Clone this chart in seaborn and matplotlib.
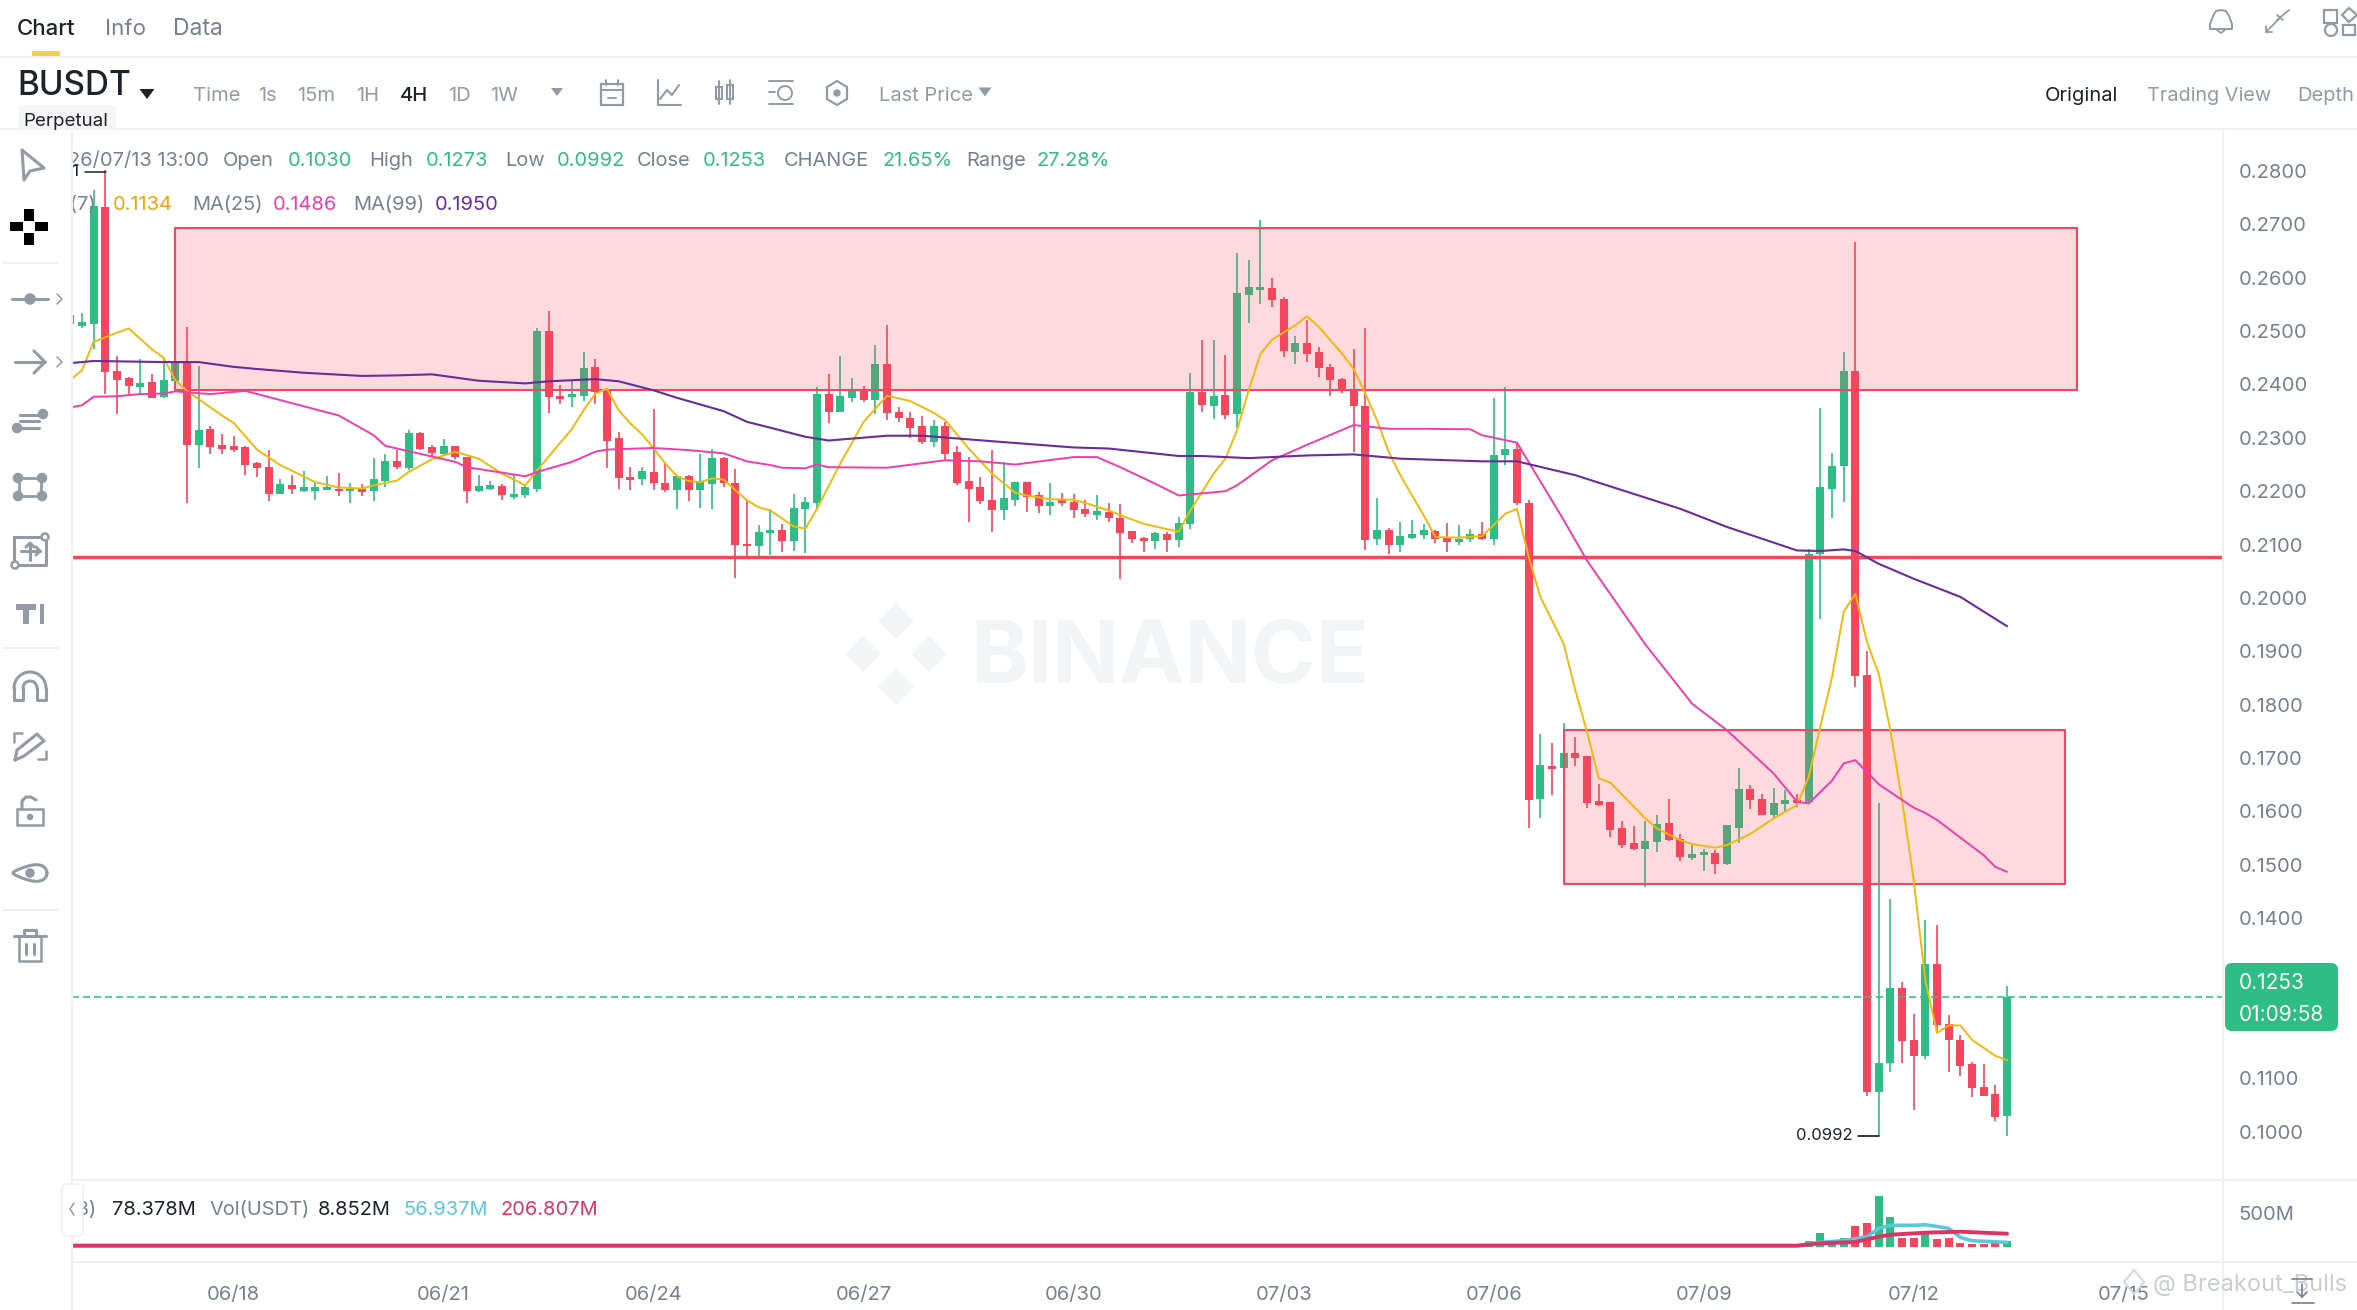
import numpy as np
import pandas as pd
import matplotlib.pyplot as plt
from matplotlib.patches import Rectangle, FancyBboxPatch, Circle, Polygon
from matplotlib.colors import to_rgba
import seaborn as sns

# Candle values, in ten-thousandths of a dollar
open_p = [2530, 2510, 2513, 2732, 2425, 2413, 2396, 2404, 2377, 2407,
          2442, 2287, 2317, 2287, 2284, 2283, 2252, 2245, 2195, 2212,
          2200, 2200, 2202, 2205, 2200, 2205, 2200, 2219, 2256, 2244,
          2310, 2282, 2270, 2284, 2264, 2200, 2205, 2210, 2189, 2192,
          2204, 2500, 2379, 2376, 2379, 2432, 2388, 2299, 2227, 2222,
          2236, 2216, 2203, 2228, 2202, 2214, 2263, 2215, 2102, 2097,
          2122, 2128, 2106, 2167, 2178, 2383, 2349, 2375, 2391, 2371,
          2438, 2349, 2337, 2322, 2292, 2322, 2273, 2219, 2207, 2183,
          2164, 2183, 2217, 2192, 2172, 2184, 2180, 2166, 2156, 2161,
          2150, 2125, 2113, 2106, 2120, 2109, 2138, 2386, 2359, 2381,
          2344, 2567, 2577, 2580, 2560, 2461, 2477, 2461, 2432, 2410,
          2392, 2360, 2111, 2127, 2100, 2113, 2118, 2126, 2112, 2104,
          2111, 2119, 2110, 2267, 2279, 2178, 1624, 1686, 1681, 1709,
          1704, 1619, 1617, 1569, 1541, 1530, 1542, 1579, 1549, 1513,
          1518, 1522, 1502, 1569, 1642, 1624, 1593, 1613, 1621, 1618,
          2082, 2205, 2247, 2425, 1855, 1074, 1128, 1269, 1172, 1141,
          1315, 1201, 1172, 1126, 1083, 1070, 1030]
high_p = [2536, 2533, 2765, 2801, 2454, 2414, 2447, 2419, 2449, 2464,
          2508, 2435, 2322, 2308, 2303, 2284, 2255, 2278, 2222, 2230,
          2237, 2217, 2229, 2235, 2215, 2213, 2263, 2269, 2278, 2314,
          2311, 2286, 2297, 2285, 2264, 2230, 2220, 2213, 2230, 2211,
          2505, 2538, 2399, 2408, 2461, 2447, 2392, 2311, 2245, 2245,
          2354, 2253, 2230, 2230, 2270, 2280, 2264, 2241, 2184, 2136,
          2167, 2139, 2194, 2189, 2395, 2420, 2453, 2413, 2397, 2474,
          2511, 2358, 2349, 2340, 2333, 2330, 2284, 2264, 2226, 2278,
          2255, 2217, 2217, 2199, 2216, 2197, 2194, 2183, 2192, 2178,
          2176, 2125, 2114, 2124, 2124, 2152, 2422, 2483, 2483, 2456,
          2646, 2633, 2708, 2599, 2563, 2491, 2521, 2471, 2438, 2413,
          2466, 2505, 2188, 2132, 2142, 2147, 2139, 2127, 2141, 2137,
          2130, 2142, 2375, 2395, 2289, 2183, 1745, 1729, 1765, 1739,
          1704, 1652, 1618, 1582, 1573, 1583, 1593, 1624, 1557, 1538,
          1530, 1527, 1574, 1682, 1649, 1632, 1643, 1641, 1633, 2092,
          2355, 2272, 2461, 2667, 1900, 1615, 1435, 1280, 1220, 1397,
          1388, 1218, 1182, 1130, 1126, 1087, 1273]
low_p = [2511, 2505, 2467, 2382, 2344, 2382, 2383, 2374, 2375, 2407,
         2177, 2244, 2270, 2270, 2274, 2230, 2226, 2182, 2194, 2194,
         2199, 2183, 2202, 2191, 2178, 2191, 2182, 2208, 2242, 2240,
         2277, 2264, 2267, 2260, 2177, 2198, 2202, 2183, 2185, 2188,
         2199, 2347, 2364, 2358, 2369, 2363, 2244, 2205, 2202, 2211,
         2202, 2199, 2167, 2182, 2169, 2167, 2208, 2038, 2077, 2074,
         2080, 2086, 2088, 2084, 2164, 2328, 2349, 2367, 2367, 2345,
         2334, 2330, 2299, 2289, 2283, 2259, 2211, 2142, 2176, 2124,
         2147, 2172, 2161, 2159, 2155, 2172, 2150, 2152, 2147, 2142,
         2036, 2103, 2086, 2092, 2086, 2096, 2130, 2349, 2336, 2336,
         2319, 2515, 2550, 2546, 2451, 2439, 2442, 2414, 2378, 2384,
         2274, 2090, 2099, 2082, 2086, 2111, 2111, 2103, 2087, 2099,
         2105, 2108, 2099, 2250, 2174, 1569, 1588, 1631, 1656, 1685,
         1607, 1611, 1552, 1531, 1528, 1459, 1524, 1545, 1507, 1509,
         1489, 1483, 1499, 1540, 1605, 1593, 1585, 1599, 1608, 1616,
         1961, 2150, 2180, 1834, 1066, 992, 1112, 1128, 1040, 1137,
         1184, 1112, 1105, 1065, 1066, 1020, 992]
close_p = [2513, 2517, 2734, 2424, 2408, 2397, 2403, 2375, 2408, 2442,
           2286, 2315, 2283, 2280, 2278, 2250, 2244, 2195, 2213, 2204,
           2207, 2207, 2208, 2200, 2205, 2199, 2222, 2256, 2245, 2310,
           2280, 2272, 2285, 2264, 2200, 2209, 2211, 2192, 2194, 2207,
           2501, 2377, 2372, 2382, 2431, 2386, 2295, 2225, 2221, 2238,
           2215, 2202, 2228, 2202, 2217, 2263, 2215, 2100, 2097, 2124,
           2128, 2106, 2169, 2180, 2382, 2349, 2378, 2391, 2371, 2438,
           2347, 2337, 2319, 2292, 2322, 2270, 2215, 2204, 2181, 2164,
           2187, 2217, 2190, 2172, 2180, 2177, 2164, 2158, 2162, 2150,
           2122, 2111, 2106, 2122, 2109, 2141, 2386, 2361, 2378, 2343,
           2571, 2582, 2583, 2558, 2463, 2478, 2458, 2431, 2409, 2392,
           2359, 2109, 2127, 2100, 2116, 2119, 2127, 2111, 2105, 2111,
           2120, 2111, 2267, 2279, 2177, 1622, 1687, 1680, 1709, 1701,
           1615, 1612, 1566, 1537, 1529, 1544, 1577, 1546, 1514, 1521,
           1524, 1501, 1574, 1642, 1621, 1593, 1616, 1621, 1616, 2082,
           2207, 2248, 2425, 1854, 1074, 1129, 1269, 1170, 1142, 1315,
           1199, 1171, 1123, 1082, 1067, 1027, 1253]

# Volume per candle, in millions
volume = [14, 12, 24, 26, 13, 10, 9, 11, 10, 12,
          22, 14, 10, 8, 8, 9, 7, 12, 8, 7,
          7, 8, 6, 7, 8, 6, 10, 11, 8, 14,
          10, 8, 8, 7, 14, 8, 7, 8, 7, 7,
          24, 22, 9, 8, 13, 12, 14, 13, 7, 8,
          16, 9, 9, 8, 12, 14, 10, 20, 12, 9,
          8, 8, 11, 9, 22, 12, 13, 8, 7, 15,
          16, 8, 9, 9, 8, 10, 12, 13, 9, 14,
          12, 9, 9, 8, 8, 6, 8, 6, 7, 7,
          13, 7, 6, 6, 6, 8, 24, 15, 13, 13,
          28, 18, 20, 11, 16, 10, 10, 10, 9, 8,
          15, 30, 12, 10, 9, 8, 8, 7, 8, 7,
          6, 6, 24, 15, 20, 34, 18, 10, 14, 10,
          18, 8, 12, 12, 9, 16, 12, 14, 11, 8,
          9, 10, 14, 18, 9, 10, 10, 8, 8, 83,
          206, 73, 122, 304, 353, 745, 441, 127, 122, 196,
          108, 122, 54, 44, 44, 49, 88]

# Moving averages, read at the bends of each line: candle number, value
ma7_idx = [0, 1, 2, 4, 5, 7, 8, 9, 10, 13, 14, 16, 18, 21, 23, 25, 26, 28, 29, 31,
           33, 35, 37, 39, 40, 43, 44, 45, 46, 47, 48, 49, 50, 51, 52, 53, 54, 55, 56, 57,
           58, 59, 60, 62, 63, 64, 66, 68, 70, 72, 74, 75, 77, 79, 81, 82, 84, 86, 87, 89,
           90, 92, 95, 96, 98, 99, 100, 101, 102, 103, 105, 106, 107, 109, 110, 111, 112, 113, 114, 115,
           116, 117, 119, 121, 123, 124, 125, 126, 128, 129, 130, 131, 132, 135, 136, 138, 139, 141, 142, 144,
           146, 148, 149, 150, 151, 152, 153, 154, 155, 156, 157, 158, 159, 160, 161, 162, 163, 165, 166]
ma7_val = [2408, 2427, 2480, 2497, 2505, 2466, 2450, 2408, 2388, 2342, 2328, 2278, 2249, 2217, 2207, 2205, 2211, 2220, 2236, 2260,
           2274, 2261, 2233, 2211, 2239, 2317, 2352, 2383, 2392, 2352, 2327, 2307, 2280, 2252, 2228, 2219, 2217, 2224, 2222, 2202,
           2183, 2170, 2164, 2134, 2130, 2167, 2252, 2330, 2379, 2369, 2347, 2333, 2280, 2233, 2197, 2192, 2185, 2184, 2178, 2164,
           2155, 2139, 2124, 2164, 2233, 2261, 2314, 2389, 2457, 2484, 2511, 2528, 2508, 2458, 2429, 2383, 2333, 2274, 2230, 2192,
           2155, 2114, 2113, 2116, 2158, 2167, 2077, 2002, 1914, 1827, 1749, 1662, 1654, 1587, 1568, 1546, 1539, 1532, 1537, 1558,
           1587, 1612, 1665, 1759, 1852, 1974, 2008, 1917, 1858, 1752, 1621, 1471, 1283, 1185, 1199, 1199, 1172, 1142, 1134]
ma25_idx = [0, 1, 2, 4, 6, 8, 9, 12, 15, 19, 23, 26, 27, 33, 34, 39, 40, 43, 45, 46,
            50, 53, 56, 58, 60, 61, 63, 64, 65, 70, 75, 78, 81, 86, 88, 90, 93, 95, 99, 100,
            103, 106, 110, 113, 116, 120, 121, 124, 128, 130, 135, 139, 142, 146, 148, 149, 151, 152, 153, 155,
            158, 159, 160, 164, 165, 166]
ma25_val = [2357, 2361, 2377, 2378, 2382, 2383, 2387, 2382, 2388, 2365, 2342, 2305, 2285, 2255, 2245, 2228, 2236, 2255, 2274, 2278,
            2281, 2277, 2271, 2256, 2249, 2244, 2243, 2250, 2245, 2244, 2258, 2256, 2250, 2264, 2264, 2245, 2214, 2192, 2200, 2211,
            2258, 2287, 2324, 2317, 2317, 2316, 2305, 2291, 2146, 2070, 1913, 1802, 1752, 1671, 1618, 1615, 1658, 1690, 1696, 1651,
            1607, 1597, 1584, 1518, 1496, 1487]
ma99_idx = [0, 2, 5, 8, 11, 14, 16, 20, 25, 28, 31, 35, 39, 41, 45, 47, 50, 52, 56, 58,
            60, 63, 65, 70, 73, 80, 86, 89, 95, 97, 101, 106, 110, 114, 121, 124, 129, 138, 142, 148,
            150, 152, 153, 155, 158, 162, 166]
ma99_val = [2440, 2444, 2443, 2442, 2442, 2433, 2429, 2422, 2416, 2417, 2419, 2407, 2402, 2406, 2410, 2406, 2389, 2375, 2350, 2330,
            2319, 2302, 2295, 2304, 2304, 2292, 2282, 2280, 2266, 2266, 2262, 2267, 2269, 2261, 2256, 2256, 2230, 2167, 2133, 2089,
            2088, 2091, 2088, 2064, 2036, 2002, 1947]
vol_ma_fast_idx = [0, 148, 150, 152, 154, 155, 156, 158, 159, 161, 162, 163, 166]
vol_ma_fast_val = [15, 15, 64, 88, 147, 270, 314, 314, 323, 270, 137, 88, 64]
vol_ma_slow_idx = [0, 148, 150, 153, 155, 156, 159, 162, 166]
vol_ma_slow_val = [15, 15, 49, 69, 147, 176, 206, 220, 191]

date_labels = ["06/18", "06/21", "06/24", "06/27", "06/30", "07/03", "07/06", "07/09", "07/12", "07/15"]
date_ticks = [14, 32, 50, 68, 86, 104, 122, 140, 158, 176]
price_ticks = [0.28, 0.27, 0.26, 0.25, 0.24, 0.23, 0.22, 0.21, 0.20, 0.19,
               0.18, 0.17, 0.16, 0.15, 0.14, 0.11, 0.10]

# Zones drawn on the chart: first candle, last candle, low, high
upper_zone = (8.97, 172.0, 0.2389, 0.2694)
lower_zone = (128.0, 171.0, 0.1464, 0.1752)
support_level = 0.2077
last_price = 0.1253

GREEN = "#2EBD85"
RED = "#F6465D"
GREY = "#929AA5"
TEXT_GREY = "#76808F"
LINE = "#EEF0F2"
W, H = 2357, 1310

sns.set_theme(style="white")
plt.rcParams['font.family'] = ['Inter', 'DejaVu Sans']

df = pd.DataFrame({"open": open_p, "high": high_p, "low": low_p, "close": close_p, "volume": volume})
df[["open", "high", "low", "close"]] /= 10000
df["x"] = df.index
df["color"] = np.where(df["close"] >= df["open"], GREEN, RED)

fig = plt.figure(figsize=(W / 100, H / 100), dpi=100, facecolor="white")


def pane(left, top, right, bottom):
    # axes from pixel edges
    return fig.add_axes([left / W, 1 - bottom / H, (right - left) / W, (bottom - top) / H])


ax = pane(72, 129, 2223, 1180)
ax_vol = pane(72, 1180, 2223, 1262)
ui = fig.add_axes([0, 0, 1, 1], zorder=5)
ui.set_xlim(0, W)
ui.set_ylim(H, 0)
ui.axis("off")

# Price pane
ax.set_xlim(0.146, 184.51)
ax.set_ylim(0.09094, 0.28787)
ax.set_facecolor("none")

ax.vlines(df["x"], df["low"], df["high"], colors=df["color"], lw=1.2, zorder=2)
ax.bar(df["x"], (df["close"] - df["open"]).abs(), bottom=df[["open", "close"]].min(axis=1),
       width=0.7, color=df["color"], linewidth=0, zorder=2)

for x0, x1, y0, y1 in (upper_zone, lower_zone):
    ax.add_patch(Rectangle((x0, y0), x1 - x0, y1 - y0, facecolor=to_rgba(RED, 0.2),
                           edgecolor=RED, lw=1.5, zorder=3))
ax.axhline(support_level, color=RED, lw=2.5, zorder=3)
ax.axhline(last_price, color=GREEN, lw=1.1, ls=(0, (4.6, 2.6)), zorder=3)

for idx, val, col, lw in ((ma7_idx, ma7_val, "#F0B90B", 1.4),
                          (ma25_idx, ma25_val, "#EE3DAE", 1.4),
                          (ma99_idx, ma99_val, "#6B2A9E", 1.5)):
    sns.lineplot(x=idx, y=np.array(val) / 10000, ax=ax, color=col, lw=lw,
                 estimator=None, sort=False, zorder=4)

# lowest point marker
low_i = int(df["low"].idxmin())
ax.plot([low_i - 1.8, low_i], [df["low"].min()] * 2, color="black", lw=1.1, zorder=4)
ax.text(low_i - 2.2, df["low"].min(), "0.0992", ha="right", va="center", fontsize=12, color="#1E2329")

ax.set_yticks(price_ticks)
ax.set_yticklabels([f"{t:.4f}" for t in price_ticks], fontsize=14.5, color=TEXT_GREY)
ax.yaxis.tick_right()
ax.tick_params(axis="y", length=0, pad=11)
ax.set_xticks([])
ax.set_xlabel("")
ax.set_ylabel("")
sns.despine(ax=ax, left=True, bottom=True, top=True, right=True)

# Volume pane
ax_vol.set_xlim(0.146, 184.51)
ax_vol.set_ylim(-225, 980)
ax_vol.set_facecolor("none")
ax_vol.bar(df["x"], df["volume"], width=0.7, color=df["color"], linewidth=0, zorder=2)
sns.lineplot(x=vol_ma_fast_idx, y=vol_ma_fast_val, ax=ax_vol, color="#5AC8DC", lw=2.6,
             estimator=None, sort=False, zorder=3)
sns.lineplot(x=vol_ma_slow_idx, y=vol_ma_slow_val, ax=ax_vol, color="#DF3366", lw=2.8,
             estimator=None, sort=False, zorder=4)
ax_vol.set_yticks([500])
ax_vol.set_yticklabels(["500M"], fontsize=14.5, color=TEXT_GREY)
ax_vol.yaxis.tick_right()
ax_vol.set_xticks(date_ticks)
ax_vol.set_xticklabels(date_labels, fontsize=14.5, color=TEXT_GREY)
ax_vol.tick_params(axis="y", length=0, pad=11)
ax_vol.tick_params(axis="x", length=0, pad=17.5)
ax_vol.set_xlabel("")
ax_vol.set_ylabel("")
sns.despine(ax=ax_vol, left=True, bottom=True, top=True, right=True)


# ---- page furniture, in pixel coordinates ----
def label(x, y, s, color=TEXT_GREY, size=14.4, ha="left", z=5, **kw):
    ui.text(x, y + 4, s, color=color, fontsize=size, ha=ha, va="center", zorder=z, **kw)


def stroke(xs, ys, color=GREY, lw=2.2, z=8):
    ui.plot(xs, ys, color=color, lw=lw, zorder=z, solid_capstyle="round", solid_joinstyle="round")


def tri(x, y, w, h, color):
    ui.add_patch(Polygon([(x - w / 2, y - h / 2), (x + w / 2, y - h / 2), (x, y + h / 2)],
                         color=color, lw=0, zorder=8))


def box(x, y, w, h, color=GREY, lw=1.8, face="none", z=8):
    ui.add_patch(Rectangle((x, y), w, h, fill=face != "none", facecolor=face, edgecolor=color, lw=lw, zorder=z))


def dot(x, y, r, color=GREY, fill=True, lw=1.8):
    ui.add_patch(Circle((x, y), r, facecolor=color if fill else "white", edgecolor=color, lw=lw, zorder=9))


# watermarks
label(1170, 656, "BINANCE", color="#F3F4F5", size=63, ha="center", fontweight="bold", z=0)
for dx, dy, r in ((0, -33, 18), (-33, 0, 18), (33, 0, 18), (0, 33, 18)):
    ui.add_patch(Polygon([(896 + dx, 654 + dy - r), (896 + dx + r, 654 + dy),
                          (896 + dx, 654 + dy + r), (896 + dx - r, 654 + dy)], color="#F3F4F5", lw=0, zorder=0))

# rules
for yy in (56.5, 129):
    ui.plot([0, W], [yy, yy], color=LINE, lw=1.4, zorder=1)
ui.plot([72, W], [1180, 1180], color=LINE, lw=1.6, zorder=1)
ui.plot([72, W], [1262, 1262], color=LINE, lw=1.4, zorder=1)
ui.plot([2223, 2223], [129, H], color=LINE, lw=1.6, zorder=1)

# tabs
label(17, 25, "Chart", color="#1E2329", size=16, fontweight="medium")
label(105, 25, "Info", size=16)
label(173, 25, "Data", size=16.5)
ui.add_patch(Rectangle((32, 51), 28, 5, color="#F5CF45", lw=0, zorder=3))

# symbol and toolbar
label(17, 82, "BUSDT", color="#1E2329", size=24, fontweight="medium")
tri(147, 94, 15, 10, "#1E2329")
ui.add_patch(FancyBboxPatch((19, 105), 97, 24, boxstyle="round,pad=0,rounding_size=3", color="#F5F5F5", lw=0, zorder=3))
label(23, 118, "Perpetual", color="#1E2329", size=13.5)
for x, s in ((193, "Time"), (258, "1s"), (297, "15m"), (356, "1H"), (448, "1D"), (490, "1W")):
    label(x, 92, s, color=GREY, size=14.5)
label(400, 92, "4H", color="#1E2329", size=14.5, fontweight="medium")
tri(557, 92, 12, 8, GREY)
label(879, 92, "Last Price", color=GREY, size=14.5)
tri(985, 92, 13, 9, GREY)
label(2045, 92, "Original", color="#1E2329", size=14.5)
label(2147, 92, "Trading View", color=GREY, size=14.3)
label(2297, 92, "Depth", color=GREY, size=14.5)

# toolbar icons
box(601, 84, 22, 21, lw=1.6)
stroke([601, 623], [90, 90], lw=1.4)
stroke([606, 606], [80, 85], lw=1.4)
stroke([618, 618], [80, 85], lw=1.4)
stroke([608, 616, 616], [98, 98, 98], lw=1.3)
stroke([658, 658, 681], [80, 105, 105], lw=1.5)
stroke([660, 667, 672, 679], [99, 90, 95, 85], lw=1.5)
box(716, 87, 6, 12, lw=1.5)
box(727, 85, 6, 14, lw=1.5)
stroke([719, 719], [81, 104], lw=1.4)
stroke([730, 730], [80, 104], lw=1.4)
stroke([769, 793], [81, 81], lw=1.4)
stroke([769, 793], [104, 104], lw=1.4)
stroke([769, 775], [92, 92], lw=1.4)
dot(785, 93, 7, fill=False, lw=1.4)
ui.add_patch(Polygon([(837, 81), (847, 87), (847, 99), (837, 105), (827, 99), (827, 87)],
                     fill=False, edgecolor=GREY, lw=1.6, zorder=8))
dot(837, 93, 3, lw=1)

# top-right icons
stroke([2210, 2210, 2213, 2216, 2221, 2226, 2229, 2232, 2232, 2210], [29, 24, 16, 11, 10, 11, 16, 24, 29, 29], lw=1.4)
stroke([2217, 2221, 2225], [30, 33, 30], lw=1.3)
stroke([2266, 2279], [32, 19], lw=1.3)
stroke([2266, 2266, 2272], [26, 32, 32], lw=1.3)
stroke([2289, 2277], [10, 20], lw=1.3)
stroke([2277, 2283], [15, 20], lw=1.3)
box(2324, 10, 13, 13, lw=1.6)
box(2343, 25, 12, 10, lw=1.6)
ui.add_patch(Polygon([(2349, 8), (2357, 15), (2349, 22), (2342, 15)], fill=False, edgecolor=GREY, lw=1.6, zorder=8))
dot(2331, 30, 6, fill=False, lw=1.6)

# OHLC legend, its left edge runs under the tool panel
label(209, 157, "26/07/13 13:00", ha="right")
for x, s, col in ((223, "Open", TEXT_GREY), (288, "0.1030", GREEN), (369, "High", TEXT_GREY), (426, "0.1273", GREEN),
                  (505, "Low", TEXT_GREY), (557, "0.0992", GREEN), (637, "Close", TEXT_GREY), (703, "0.1253", GREEN),
                  (784, "CHANGE", TEXT_GREY), (882, "21.65%", GREEN), (966, "Range", TEXT_GREY), (1037, "27.28%", GREEN)):
    label(x, 157, s, color=col)
label(96, 201, "MA(7)", ha="right")
for x, s, col in ((113, "0.1134", "#F0A30A"), (192, "MA(25)", TEXT_GREY), (273, "0.1486", "#EE3DAE"),
                  (353, "MA(99)", TEXT_GREY), (435, "0.1950", "#6B2A9E")):
    label(x, 201, s, color=col)
label(79, 168, "0.2801", color="#1E2329", size=12, ha="right")
ui.plot([85, 106], [172, 172], color="#1E2329", lw=1.1, zorder=4)

# volume legend
label(97, 1206, "Vol(B)", ha="right")
for x, s, col in ((112, "78.378M", "#1E2329"), (209, "Vol(USDT)", TEXT_GREY), (318, "8.852M", "#1E2329"),
                  (403, "56.937M", "#5AC8DC"), (500, "206.807M", "#DF3366")):
    label(x, 1206, s, color=col)

# tool panel covers anything running past the left edge
ui.add_patch(Rectangle((0, 129.8), 72, H, color="white", lw=0, zorder=6))
ui.plot([72, 72], [130, H], color=LINE, lw=1.6, zorder=7)
ui.add_patch(FancyBboxPatch((62, 1184), 21, 52, boxstyle="round,pad=0,rounding_size=5", facecolor="white",
                            edgecolor=LINE, lw=1.2, zorder=7))
stroke([74, 70, 74], [1203, 1209, 1215], lw=1.1)
for yy in (263, 648, 910):
    ui.plot([3, 58], [yy, yy], color=LINE, lw=1.3, zorder=7)

# last price badge
ui.add_patch(FancyBboxPatch((2225, 963), 113, 68, boxstyle="round,pad=0,rounding_size=7", color=GREEN, lw=0, zorder=6))
label(2239, 979, "0.1253", color="white", size=15, z=7)
label(2239, 1011, "01:09:58", color="white", size=15, z=7)

# left tool icons
ui.add_patch(Polygon([(22, 150), (44, 168), (30, 171), (24, 180)], fill=False, edgecolor=GREY, lw=2.2, zorder=8, joinstyle="round"))
for bx, by, bw, bh in ((24, 209, 10, 12), (24, 233, 10, 12), (10, 222, 13, 9), (35, 222, 13, 9)):
    ui.add_patch(Rectangle((bx, by), bw, bh, color="black", lw=0, zorder=8))
stroke([12, 48], [299, 299])
dot(30, 299, 4.5)
stroke([57, 62, 57], [294, 299, 304], lw=1.1)
stroke([15, 45], [362, 362])
stroke([34, 45, 34], [351, 362, 373])
stroke([57, 62, 57], [357, 362, 367], lw=1.1)
stroke([20, 42], [415, 415])
dot(43, 414, 4)
stroke([20, 39], [421, 421])
stroke([20, 39], [428, 428])
dot(17, 428, 4)
box(19, 478, 22, 18, lw=2)
for cx, cy in ((18, 478), (42, 478), (18, 496), (42, 496)):
    dot(cx, cy, 4)
stroke([14, 46, 46, 14, 14], [537, 537, 565, 565, 537])
dot(15, 565, 3.5, fill=False)
dot(45, 537, 3.5, fill=False)
stroke([21, 40], [551, 551])
stroke([30, 30], [545, 560])
stroke([26, 30, 34], [547, 543, 547])
stroke([36, 40, 36], [547, 551, 555])
ui.add_patch(Polygon([(16, 604), (36, 604), (36, 610), (29, 610), (29, 624), (23, 624), (23, 610), (16, 610)], color=GREY, lw=0, zorder=8))
ui.add_patch(Rectangle((40, 604), 4, 20, color=GREY, lw=0, zorder=8))
th = np.linspace(np.pi, 2 * np.pi, 20)
stroke(30 + 16 * np.cos(th), 688 + 16 * np.sin(th))
stroke(30 + 7 * np.cos(th), 688 + 7 * np.sin(th))
stroke([14, 14, 23, 23], [688, 700, 700, 688])
stroke([37, 37, 46, 46], [688, 700, 700, 688])
stroke([15, 17, 37, 44, 24, 15], [760, 750, 734, 741, 756, 760])
stroke([14, 14, 22], [742, 733, 733], lw=1.8)
stroke([38, 46, 46], [759, 759, 751], lw=1.8)
box(17, 809, 26, 16)
stroke([22, 22, 26, 31, 36], [808, 801, 797, 797, 800])
dot(30, 817, 2)
ph = np.linspace(0, 2 * np.pi, 30)
stroke(30 + 17 * np.cos(ph), 873 + 10 * np.sin(ph) * np.abs(np.cos(ph) * 0.4 + 0.75))
dot(30, 873, 3.5)
stroke([14, 46], [936, 936])
box(19, 936, 22, 25)
stroke([24, 24, 36, 36], [936, 930, 930, 936])
stroke([26, 26], [944, 954])
stroke([34, 34], [944, 954])

# bottom-right watermark and download icon
label(2153, 1281, "@ Breakout_Bulls", color="#C9CCD0", size=17, z=7)
ui.add_patch(Polygon([(2134, 1270), (2144, 1282), (2134, 1294), (2124, 1282)], fill=False, edgecolor="#D8DADD", lw=1.6, zorder=7))
stroke([2292, 2312], [1279, 1279], color="#76808F", lw=1.2)
stroke([2302, 2302], [1284, 1297], color="#76808F", lw=1.2)
stroke([2297, 2302, 2307], [1292, 1297, 1292], color="#76808F", lw=1.2)
stroke([2292, 2314], [1303, 1303], color="#76808F", lw=1.2)

fig.savefig("out.png", dpi=100)
plt.close(fig)
